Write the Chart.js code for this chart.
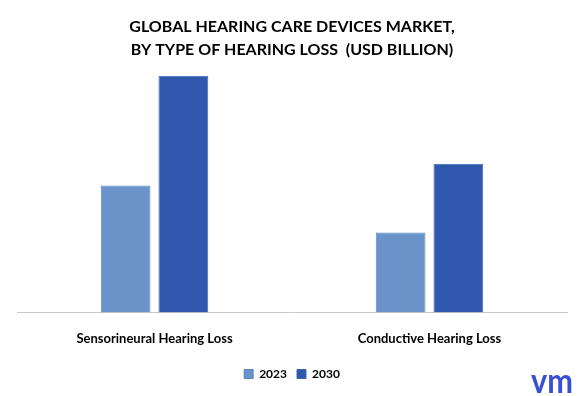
<!DOCTYPE html>
<html>
<head>
<meta charset="utf-8">
<script src="https://cdn.jsdelivr.net/npm/chart.js@4/dist/chart.umd.min.js"></script>
<style>
  html, body { margin: 0; padding: 0; background: #fff; }
  #wrap { width: 584px; height: 396px; }
</style>
</head>
<body>
<div id="wrap"><canvas id="chart" width="584" height="396"></canvas></div>
<script>
// valeurs (USD milliards, estimées)
const categories = ["Sensorineural Hearing Loss", "Conductive Hearing Loss"];
const years = ["2023", "2030"];
const values2023 = [6.35, 4.0];
const values2030 = [11.85, 7.45];
const titleLines = ["GLOBAL HEARING CARE DEVICES MARKET,", "BY TYPE OF HEARING LOSS  (USD BILLION)"];

const font = "Lato, 'Open Sans', sans-serif";

// petit logo en bas a droite
const logoPlugin = {
  id: "logo",
  afterDraw(chart) {
    const ctx = chart.ctx;
    ctx.save();
    ctx.fillStyle = "#3a50d2";
    ctx.font = "bold 34px " + font;
    ctx.textAlign = "left";
    ctx.textBaseline = "alphabetic";
    ctx.fillText("vm", 531, 393, 42);
    ctx.restore();
  }
};

const canvas = document.getElementById("chart").getContext("2d");

new Chart(canvas, {
  type: "bar",
  data: {
    labels: categories,
    datasets: [
      {
        label: years[0],
        data: values2023,
        backgroundColor: "#6a93c9",
        borderColor: "#5a85c2",
        borderWidth: 1,
      },
      {
        label: years[1],
        data: values2030,
        backgroundColor: "#2e57ad",
        borderColor: "#3d66bb",
        borderWidth: 1,
      },
    ],
  },
  options: {
    responsive: false,
    animation: false,
    categoryPercentage: 0.42,
    barPercentage: 0.862,
    layout: { padding: { left: 17, right: 17, top: 0, bottom: 6 } },
    plugins: {
      title: {
        display: true,
        text: titleLines,
        color: "#000",
        font: { family: font, size: 16, weight: "bold", lineHeight: 1.4 },
        padding: { top: 16, bottom: 0 },
      },
      legend: {
        position: "bottom",
        labels: {
          color: "#000",
          boxWidth: 9,
          boxHeight: 9,
          padding: 10,
          font: { family: font, size: 12, weight: "bold" },
        },
      },
      tooltip: { enabled: false },
    },
    scales: {
      x: {
        grid: { display: false },
        border: { display: true, color: "#c8c8c8", width: 1 },
        ticks: {
          color: "#000",
          padding: 11,
          font: { family: font, size: 13, weight: "bold" },
        },
      },
      y: {
        display: false,
        min: 0,
        max: 12.6,
      },
    },
  },
  plugins: [logoPlugin],
});
</script>
</body>
</html>
